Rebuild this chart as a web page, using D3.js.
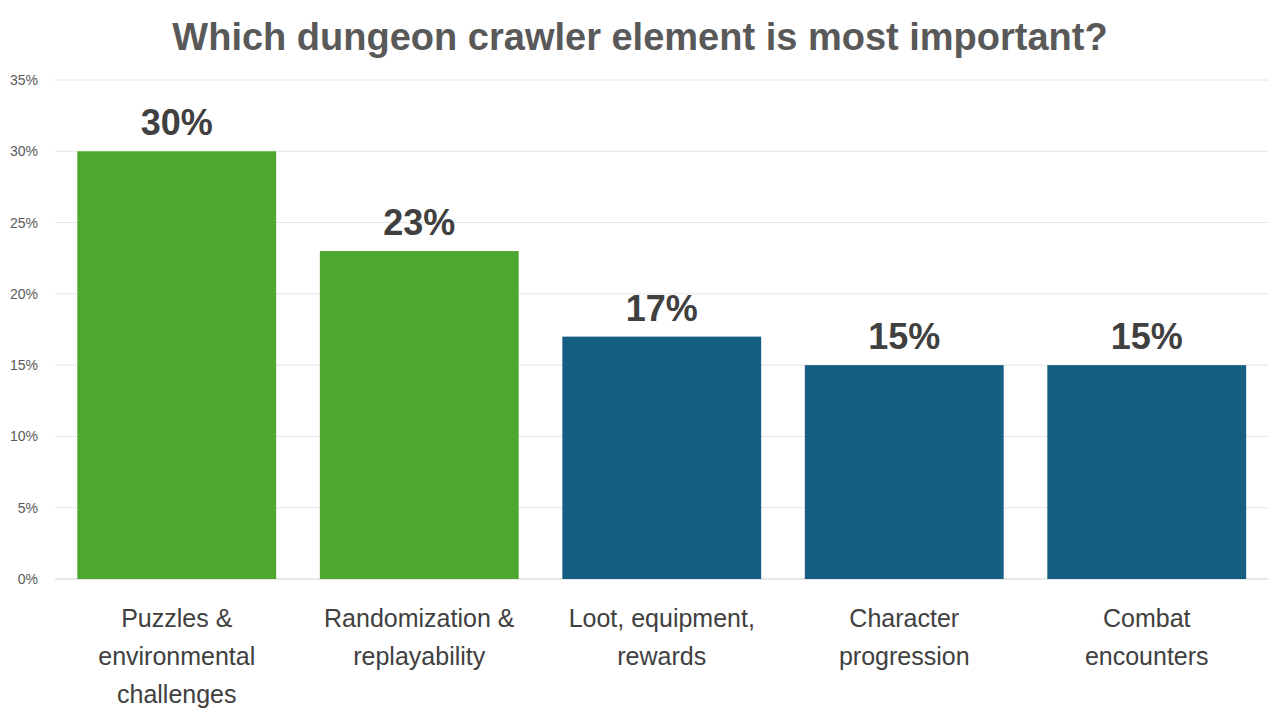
<!DOCTYPE html>
<html><head><meta charset="utf-8">
<script src="https://cdn.jsdelivr.net/npm/d3@7"></script>
<style>body{margin:0;background:#fff}</style></head>
<body><svg id="c" width="1280" height="720"></svg>
<script>
const categories=[["Puzzles &","environmental","challenges"],["Randomization &","replayability"],["Loot, equipment,","rewards"],["Character","progression"],["Combat","encounters"]];
const values=[30,23,17,15,15];
const colors=["#4EA72E","#4EA72E","#156082","#156082","#156082"];
const ticks=[0,5,10,15,20,25,30,35];
const svg=d3.select("#c");
const font="Liberation Sans, Arial, sans-serif";
const x=d3.scaleBand().domain(d3.range(values.length)).range([55.5,1268]).paddingInner(0.18).paddingOuter(0.09);
const y=d3.scaleLinear().domain([0,35]).range([579,80]);
svg.append("g").selectAll("line").data(ticks).join("line")
 .attr("x1",55).attr("x2",1268).attr("y1",d=>y(d)).attr("y2",d=>y(d))
 .attr("stroke",d=>d===0?"#d0d0d0":"#e4e4e4").attr("stroke-width",1);
svg.append("g").selectAll("text").data(ticks).join("text")
 .attr("x",38).attr("y",d=>y(d)+5).attr("text-anchor","end")
 .attr("font-family",font).attr("font-size",14).attr("fill","#595959").text(d=>d+"%");
svg.append("g").selectAll("rect").data(values).join("rect")
 .attr("x",(d,i)=>x(i)).attr("width",x.bandwidth()).attr("y",d=>y(d)).attr("height",d=>y(0)-y(d))
 .attr("fill",(d,i)=>colors[i]);
svg.append("g").selectAll("text").data(values).join("text")
 .attr("x",(d,i)=>x(i)+x.bandwidth()/2).attr("y",d=>y(d)-16).attr("text-anchor","middle")
 .attr("font-family",font).attr("font-weight","bold").attr("font-size",36).attr("fill","#404040").text(d=>d+"%");
const cl=svg.append("g").selectAll("text").data(categories).join("text")
 .attr("text-anchor","middle").attr("font-family",font).attr("font-size",25).attr("fill","#404040");
cl.each(function(lines,i){
 d3.select(this).selectAll("tspan").data(lines).join("tspan")
  .attr("x",x(i)+x.bandwidth()/2).attr("y",(d,j)=>627+j*38).text(d=>d);
});
svg.append("text").attr("x",640).attr("y",50).attr("text-anchor","middle")
 .attr("font-family",font).attr("font-weight","bold").attr("font-size",38).attr("fill","#595959")
 .text("Which dungeon crawler element is most important?");
</script></body></html>
